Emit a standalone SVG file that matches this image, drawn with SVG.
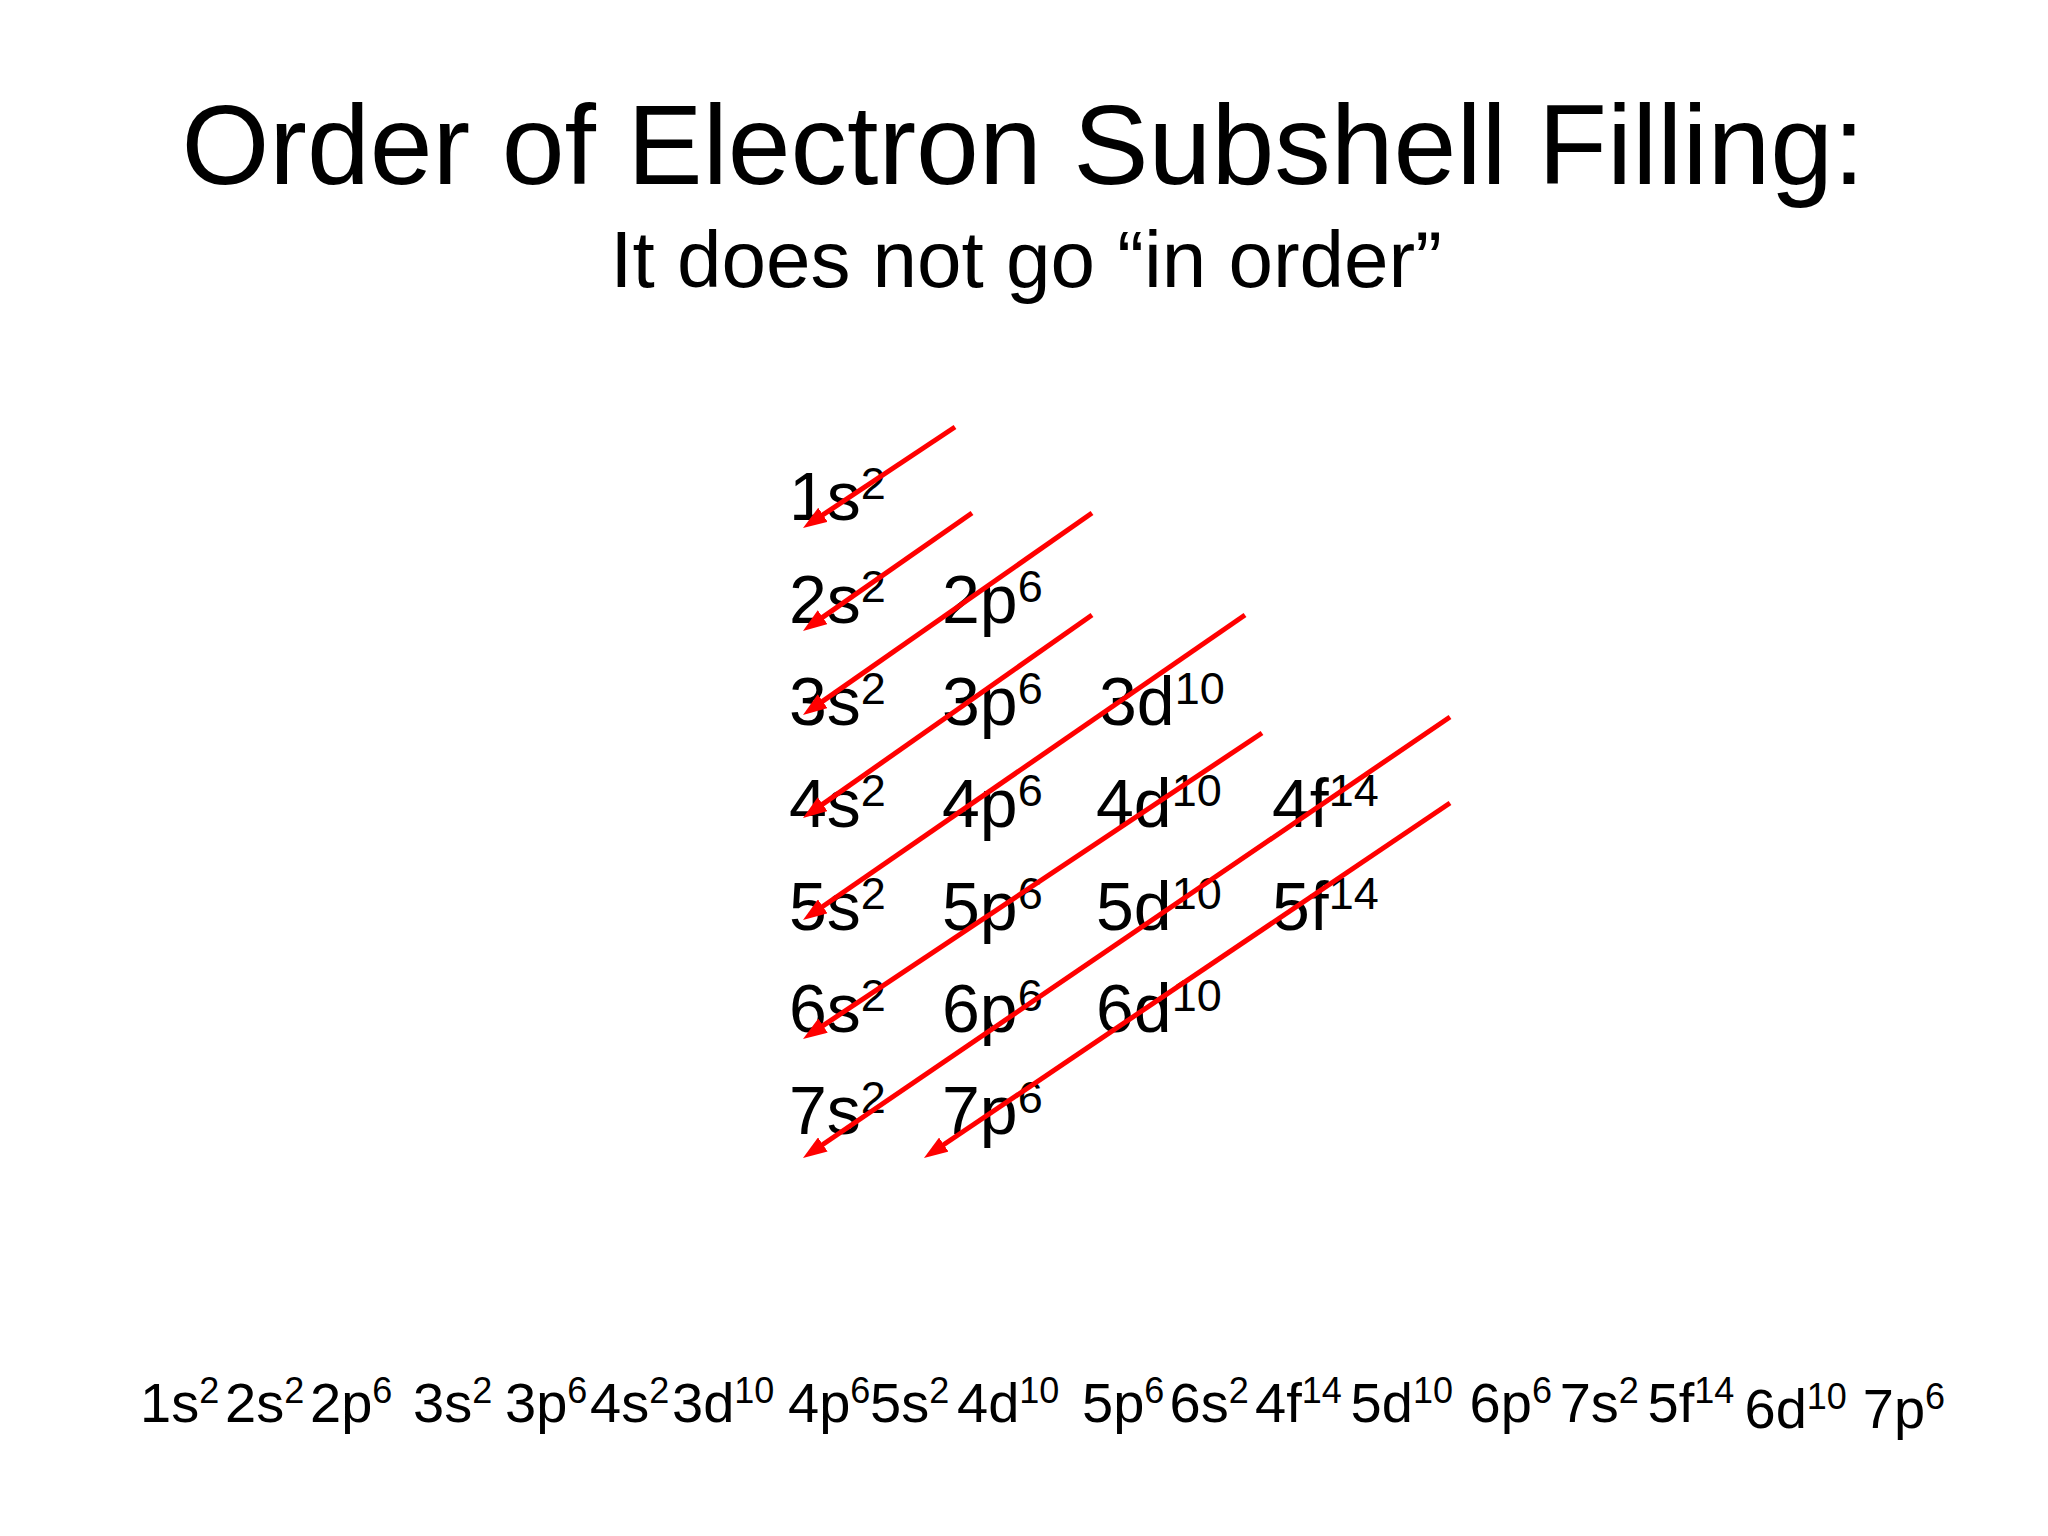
<svg xmlns="http://www.w3.org/2000/svg" width="2048" height="1536" viewBox="0 0 2048 1536">
<style>
text{font-family:"Liberation Sans",Arial,sans-serif;fill:#000}
.title{font-size:113px}
.sub{font-size:80px}
.cell{font-size:68px}
.cell .sup{font-size:45px}
.seq{font-size:56px}
.seq .sup{font-size:36px}
.arrow{stroke:#ff0000;stroke-width:5;fill:none;marker-end:url(#ah)}
</style>
<defs>
<marker id="ah" markerUnits="userSpaceOnUse" viewBox="0 0 24 17" markerWidth="24" markerHeight="17" refX="12" refY="8.5" orient="auto">
<path d="M0,0 L24,8.5 L0,17 Z" fill="#ff0000"/>
</marker>
</defs>
<rect width="2048" height="1536" fill="#ffffff"/>
<g id="title">
<text class="title" x="1023" y="184" text-anchor="middle">Order of Electron Subshell Filling:</text>
<text class="sub" x="1026" y="287" text-anchor="middle">It does not go “in order”</text>
</g>
<g id="grid">
<g id="n1s"><text class="cell" x="789" y="520">1s<tspan class="sup" dy="-21">2</tspan></text></g>
<g id="n2s"><text class="cell" x="789" y="622.5">2s<tspan class="sup" dy="-21">2</tspan></text></g>
<g id="n2p"><text class="cell" x="942" y="622.5">2p<tspan class="sup" dy="-21">6</tspan></text></g>
<g id="n3s"><text class="cell" x="789" y="725">3s<tspan class="sup" dy="-21">2</tspan></text></g>
<g id="n3p"><text class="cell" x="942" y="725">3p<tspan class="sup" dy="-21">6</tspan></text></g>
<g id="n3d"><text class="cell" x="1099" y="725">3d<tspan class="sup" dy="-21">10</tspan></text></g>
<g id="n4s"><text class="cell" x="789" y="827">4s<tspan class="sup" dy="-21">2</tspan></text></g>
<g id="n4p"><text class="cell" x="942" y="827">4p<tspan class="sup" dy="-21">6</tspan></text></g>
<g id="n4d"><text class="cell" x="1096" y="827">4d<tspan class="sup" dy="-21">10</tspan></text></g>
<g id="n4f"><text class="cell" x="1272" y="827">4f<tspan class="sup" dy="-21">14</tspan></text></g>
<g id="n5s"><text class="cell" x="789" y="929.5">5s<tspan class="sup" dy="-21">2</tspan></text></g>
<g id="n5p"><text class="cell" x="942" y="929.5">5p<tspan class="sup" dy="-21">6</tspan></text></g>
<g id="n5d"><text class="cell" x="1096" y="929.5">5d<tspan class="sup" dy="-21">10</tspan></text></g>
<g id="n5f"><text class="cell" x="1272" y="929.5">5f<tspan class="sup" dy="-21">14</tspan></text></g>
<g id="n6s"><text class="cell" x="789" y="1032">6s<tspan class="sup" dy="-21">2</tspan></text></g>
<g id="n6p"><text class="cell" x="942" y="1032">6p<tspan class="sup" dy="-21">6</tspan></text></g>
<g id="n6d"><text class="cell" x="1096" y="1032">6d<tspan class="sup" dy="-21">10</tspan></text></g>
<g id="n7s"><text class="cell" x="789" y="1134">7s<tspan class="sup" dy="-21">2</tspan></text></g>
<g id="n7p"><text class="cell" x="942" y="1134">7p<tspan class="sup" dy="-21">6</tspan></text></g>
</g>
<g id="connectors">
<line class="arrow" x1="955" y1="427" x2="813" y2="521.4"/>
<line class="arrow" x1="972" y1="513" x2="812.8" y2="624.1"/>
<line class="arrow" x1="1092" y1="513" x2="812.8" y2="708.1"/>
<line class="arrow" x1="1092" y1="615" x2="812.8" y2="811.1"/>
<line class="arrow" x1="1245" y1="615" x2="812.9" y2="913.2"/>
<line class="arrow" x1="1262" y1="733" x2="813" y2="1032.3"/>
<line class="arrow" x1="1450" y1="717" x2="812.9" y2="1151.2"/>
<line class="arrow" x1="1450" y1="803" x2="933.9" y2="1151.3"/>
</g>
<g id="sequence">
<text class="seq"><tspan x="140" y="1422">1s</tspan><tspan class="sup" dy="-19">2</tspan><tspan x="225" y="1422">2s</tspan><tspan class="sup" dy="-19">2</tspan><tspan x="310" y="1422">2p</tspan><tspan class="sup" dy="-19">6</tspan><tspan x="413" y="1422">3s</tspan><tspan class="sup" dy="-19">2</tspan><tspan x="505" y="1422">3p</tspan><tspan class="sup" dy="-19">6</tspan><tspan x="590" y="1422">4s</tspan><tspan class="sup" dy="-19">2</tspan><tspan x="672" y="1422">3d</tspan><tspan class="sup" dy="-19">10</tspan><tspan x="788" y="1422">4p</tspan><tspan class="sup" dy="-19">6</tspan><tspan x="870" y="1422">5s</tspan><tspan class="sup" dy="-19">2</tspan><tspan x="957" y="1422">4d</tspan><tspan class="sup" dy="-19">10</tspan><tspan x="1082" y="1422">5p</tspan><tspan class="sup" dy="-19">6</tspan><tspan x="1169.5" y="1422">6s</tspan><tspan class="sup" dy="-19">2</tspan><tspan x="1255" y="1422">4f</tspan><tspan class="sup" dy="-19">14</tspan><tspan x="1350.6" y="1422">5d</tspan><tspan class="sup" dy="-19">10</tspan><tspan x="1469.6" y="1422">6p</tspan><tspan class="sup" dy="-19">6</tspan><tspan x="1559.7" y="1422">7s</tspan><tspan class="sup" dy="-19">2</tspan><tspan x="1647.6" y="1422">5f</tspan><tspan class="sup" dy="-19">14</tspan><tspan x="1744.5" y="1428">6d</tspan><tspan class="sup" dy="-19">10</tspan><tspan x="1862.8" y="1428">7p</tspan><tspan class="sup" dy="-19">6</tspan></text>
</g>
</svg>
